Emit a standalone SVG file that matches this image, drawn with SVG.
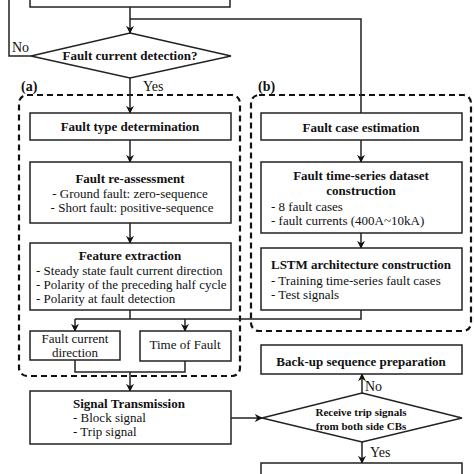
<svg xmlns="http://www.w3.org/2000/svg" width="474" height="474" viewBox="0 0 474 474">
<defs>
<marker id="arr" viewBox="0 0 10 10" refX="9" refY="5" markerWidth="8" markerHeight="8" markerUnits="userSpaceOnUse" orient="auto">
<path d="M0,0 L10,5 L0,10 L3,5 z" fill="#111"/>
</marker>
<style>
.box{fill:#fff;stroke:#222;stroke-width:1.5}
.dash{fill:none;stroke:#111;stroke-width:2.2;stroke-dasharray:6 4}
.ln{fill:none;stroke:#222;stroke-width:1.5}
.b{font-family:"Liberation Serif",serif;font-weight:bold;font-size:13px;fill:#111}
.r{font-family:"Liberation Serif",serif;font-size:13px;fill:#111}
.s{font-family:"Liberation Serif",serif;font-weight:bold;font-size:11px;fill:#111}
.lab{font-family:"Liberation Serif",serif;font-size:14px;fill:#111}
.c{text-anchor:middle}
</style>
</defs>
<rect width="474" height="474" fill="#fff"/>

<g id="groups">
<rect class="dash" x="19" y="95" width="221" height="281" rx="8"/>
<rect class="dash" x="251" y="95" width="220" height="236" rx="8"/>
<text class="b" x="21" y="91" style="font-size:14px">(a)</text>
<text class="b" x="258" y="91" style="font-size:14px">(b)</text>
</g>

<g id="connectors">
<polyline class="ln" points="31,56 9,56 9,0"/>
<line class="ln" x1="130" y1="7" x2="130" y2="33" marker-end="url(#arr)"/>
<polyline class="ln" points="130,19 361,19 361,113"/>
<line class="ln" x1="130" y1="78" x2="130" y2="113" marker-end="url(#arr)"/>
<line class="ln" x1="130" y1="140" x2="130" y2="162" marker-end="url(#arr)"/>
<line class="ln" x1="130" y1="223" x2="130" y2="243" marker-end="url(#arr)"/>
<line class="ln" x1="361" y1="140" x2="361" y2="162" marker-end="url(#arr)"/>
<line class="ln" x1="361" y1="233" x2="361" y2="248" marker-end="url(#arr)"/>
<line class="ln" x1="130" y1="310" x2="130" y2="319"/>
<polyline class="ln" points="361,310 361,319 75,319"/>
<line class="ln" x1="75" y1="319" x2="75" y2="331" marker-end="url(#arr)"/>
<line class="ln" x1="185" y1="319" x2="185" y2="331" marker-end="url(#arr)"/>
<polyline class="ln" points="75,360 75,372 185,372 185,361"/>
<line class="ln" x1="130" y1="372" x2="130" y2="391" marker-end="url(#arr)"/>
<line class="ln" x1="231" y1="418" x2="262" y2="418" marker-end="url(#arr)"/>
<line class="ln" x1="362" y1="393" x2="362" y2="374" marker-end="url(#arr)"/>
<line class="ln" x1="362" y1="442" x2="362" y2="463" marker-end="url(#arr)"/>
<text class="lab" x="12" y="52">No</text>
<text class="lab" x="143" y="91">Yes</text>
<text class="lab" x="365" y="391">No</text>
<text class="lab" x="370" y="457">Yes</text>
</g>

<g id="top">
<rect class="box" x="30" y="-10" width="200" height="17"/>
</g>

<g id="detect">
<polygon class="box" points="130,33 231,56 130,78 31,56"/>
<text class="b c" x="130" y="60">Fault current detection?</text>
</g>

<g id="faulttype">
<rect class="box" x="30" y="113" width="201" height="27"/>
<text class="b c" x="130" y="131">Fault type determination</text>
</g>

<g id="reassess">
<rect class="box" x="30" y="162" width="201" height="61"/>
<text class="b c" x="130" y="183">Fault re-assessment</text>
<text class="r c" x="130" y="198">- Ground fault: zero-sequence</text>
<text class="r c" x="132" y="212">- Short fault: positive-sequence</text>
</g>

<g id="feature">
<rect class="box" x="30" y="243" width="201" height="67"/>
<text class="b c" x="130" y="260">Feature extraction</text>
<text class="r" x="36" y="275">- Steady state fault current direction</text>
<text class="r" x="36" y="289">- Polarity of the preceding half cycle</text>
<text class="r" x="36" y="303">- Polarity at fault detection</text>
</g>

<g id="direction">
<rect class="box" x="30" y="331" width="90" height="29"/>
<text class="r c" x="75" y="343">Fault current</text>
<text class="r c" x="75" y="357">direction</text>
</g>

<g id="timefault">
<rect class="box" x="140" y="331" width="91" height="30"/>
<text class="r c" x="185" y="349">Time of Fault</text>
</g>

<g id="signal">
<rect class="box" x="30" y="391" width="201" height="53"/>
<text class="b" x="73" y="408">Signal Transmission</text>
<text class="r" x="73" y="422">- Block signal</text>
<text class="r" x="73" y="436">- Trip signal</text>
</g>

<g id="caseest">
<rect class="box" x="261" y="113" width="201" height="27"/>
<text class="b c" x="361" y="132">Fault case estimation</text>
</g>

<g id="dataset">
<rect class="box" x="261" y="162" width="201" height="71"/>
<text class="b c" x="361" y="180">Fault time-series dataset</text>
<text class="b c" x="361" y="195">construction</text>
<text class="r" x="271" y="211">- 8 fault cases</text>
<text class="r" x="271" y="225">- fault currents (400A~10kA)</text>
</g>

<g id="lstm">
<rect class="box" x="261" y="248" width="201" height="62"/>
<text class="b c" x="361" y="269">LSTM architecture construction</text>
<text class="r" x="271" y="285">- Training time-series fault cases</text>
<text class="r" x="271" y="299">- Test signals</text>
</g>

<g id="backup">
<rect class="box" x="261" y="345" width="201" height="29"/>
<text class="b c" x="361" y="366">Back-up sequence preparation</text>
</g>

<g id="receive">
<polygon class="box" points="362,393 462,418 362,442 262,418"/>
<text class="s c" x="361" y="416">Receive trip signals</text>
<text class="s c" x="361" y="430">from both side CBs</text>
</g>

<g id="bottom">
<rect class="box" x="261" y="463" width="201" height="20"/>
</g>
</svg>
